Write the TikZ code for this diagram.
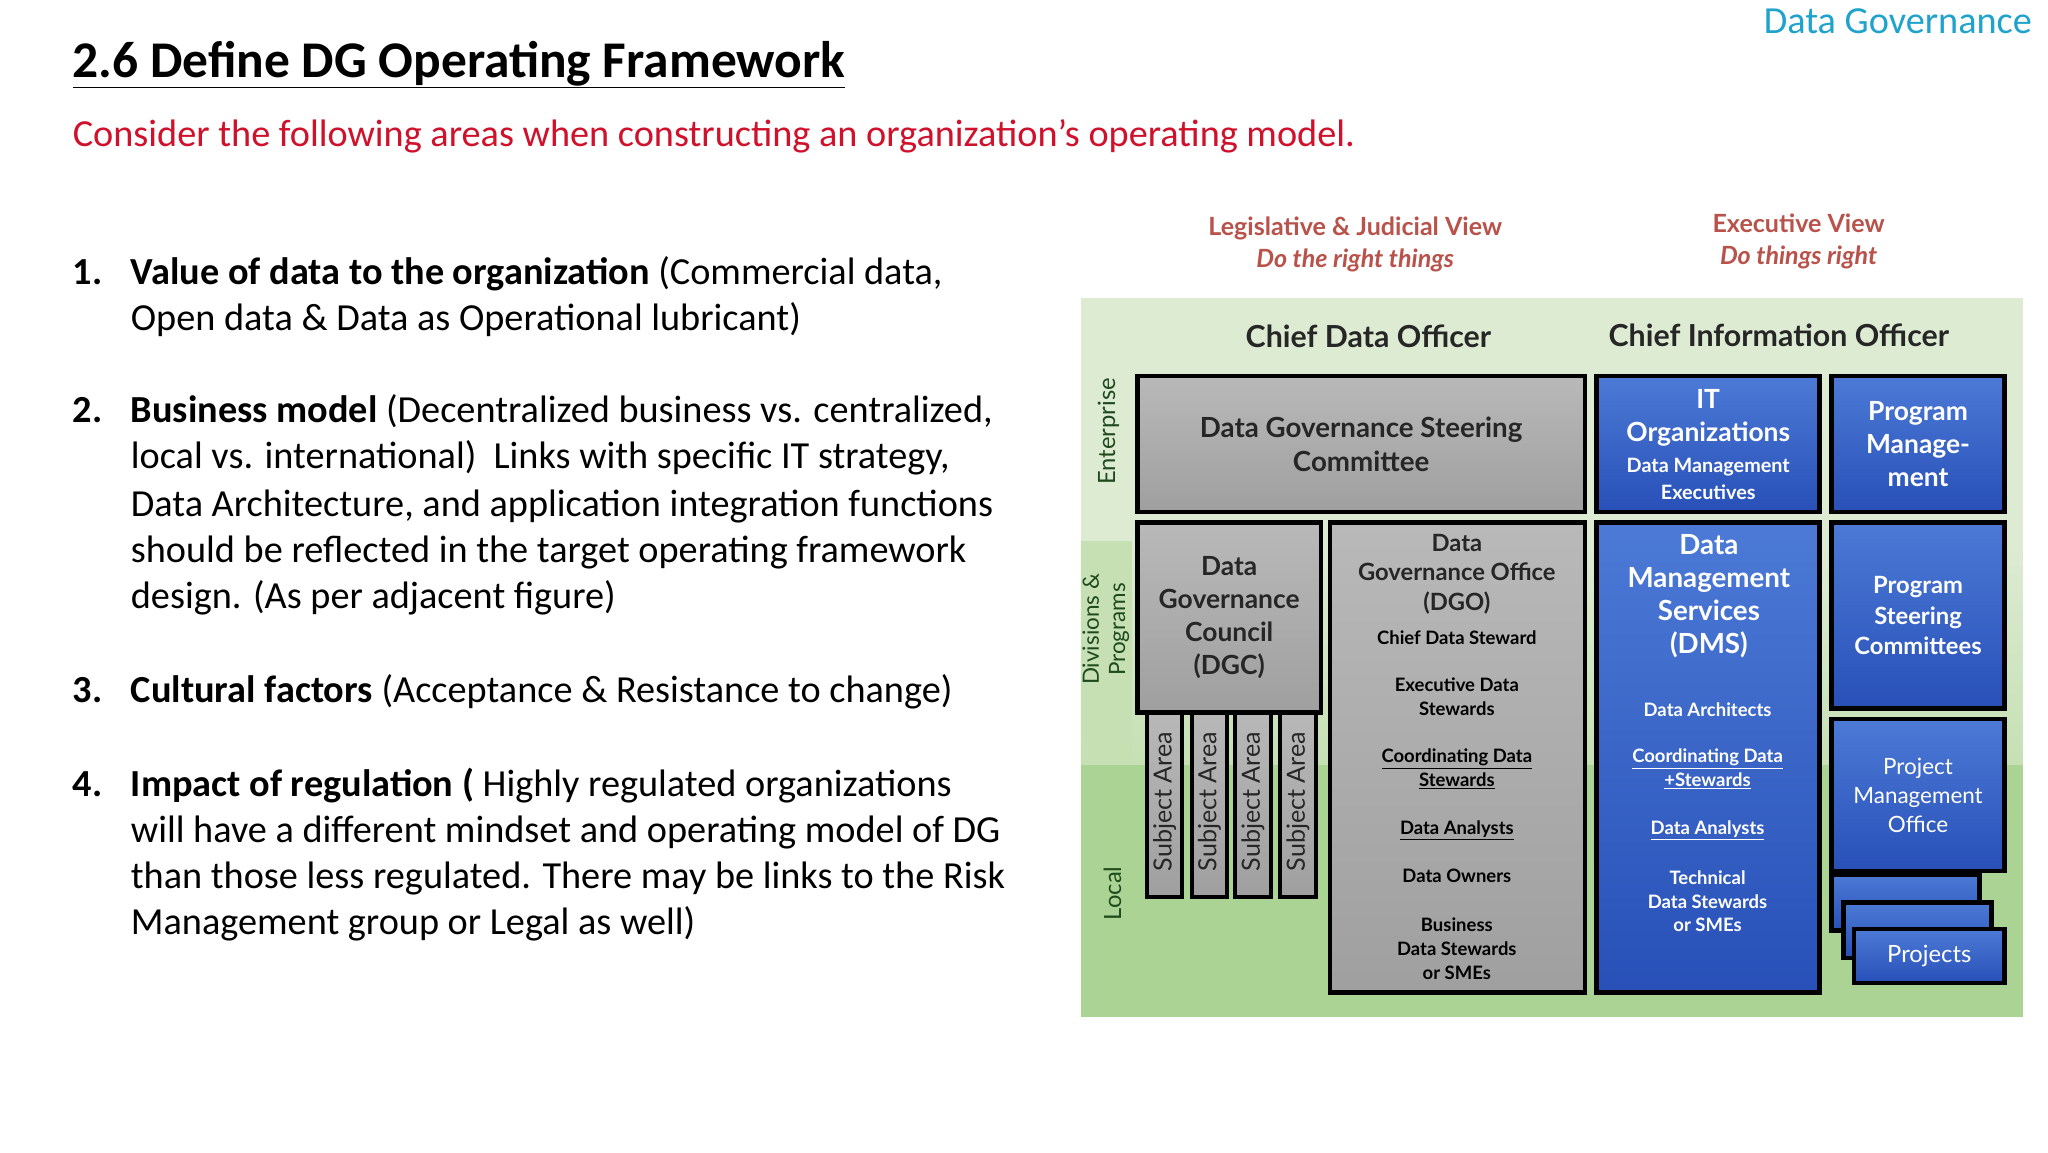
\documentclass[tikz,border=0pt]{standalone}
\usepackage{fontspec}
\setmainfont{Carlito}
\newfontfamily\dg{Lato}
\usetikzlibrary{positioning}
\definecolor{redt}{HTML}{D0112B}
\definecolor{viewc}{HTML}{B8524A}
\definecolor{cyanT}{HTML}{1FA3CC}
\definecolor{gtop}{HTML}{DDEBD3}
\definecolor{gmid}{HTML}{C6E0B4}
\definecolor{gbot}{HTML}{ABD394}
\definecolor{darkg}{HTML}{1E4A1E}
\tikzset{
 body/.style={anchor=mid west,inner sep=0pt,font=\fontsize{29}{34}\selectfont},
 num/.style={body,font=\bfseries\fontsize{29}{34}\selectfont},
 gbox/.style={draw=black,line width=3.5pt,top color=gray!55,bottom color=gray!75,align=center,inner sep=2pt,text=black!85},
 bbox/.style={draw=black,line width=3.5pt,top color={rgb,255:red,76;green,122;blue,214},bottom color={rgb,255:red,40;green,80;blue,184},align=center,inner sep=2pt,text=white},
 sub/.style={font=\dg\bfseries\fontsize{14}{18}\selectfont,align=center,inner sep=1pt},
 side/.style={rotate=90,font=\dg\fontsize{18}{20}\selectfont,align=center,text=darkg},
}
\begin{document}
\begin{tikzpicture}[x=1pt,y=-1pt]
\useasboundingbox (0,0) rectangle (1552,873);
\fill[white] (0,0) rectangle (1552,873);
% header
\node[anchor=north east,inner sep=0pt,text=cyanT,font=\fontsize{29}{32}\selectfont] (hdr) at (1540,6) {Data Governance};
\node[anchor=mid west,inner sep=0pt,font=\bfseries\fontsize{39}{44}\selectfont] (title) at (55,56) {\underline{2.6 Define DG Operating Framework}};
\node[anchor=mid west,inner sep=0pt,text=redt,font=\fontsize{29}{32}\selectfont] (subt) at (55,109) {Consider the following areas when constructing an organization’s operating model.};
% list
\node[num] (n1) at (55,213) {1.};
\node[body] (l1a) at (99,213) {\textbf{Value of data to the organization} (Commercial data,};
\node[body] (l1b) at (99,248) {Open data \& Data as Operational lubricant)};
\node[num] (n2) at (55,318) {2.};
\node[body] (l2a) at (99,318) {\textbf{Business model} (Decentralized business vs. centralized,};
\node[body] (l2b) at (99,353) {local vs. international)\ \ Links with specific IT strategy,};
\node[body] (l2c) at (99,389) {Data Architecture, and application integration functions};
\node[body] (l2d) at (99,424) {should be reflected in the target operating framework};
\node[body] (l2e) at (99,459) {design. (As per adjacent figure)};
\node[num] (n3) at (55,530) {3.};
\node[body] (l3a) at (99,530) {\textbf{Cultural factors} (Acceptance \& Resistance to change)};
\node[num] (n4) at (55,601) {4.};
\node[body] (l4a) at (99,601) {\textbf{Impact of regulation (} Highly regulated organizations};
\node[body] (l4b) at (99,636) {will have a different mindset and operating model of DG};
\node[body] (l4c) at (99,671) {than those less regulated. There may be links to the Risk};
\node[body] (l4d) at (99,706) {Management group or Legal as well)};
% views
\node[text=viewc,font=\dg\bfseries\fontsize{19}{24}\selectfont,align=center] (lv) at (1027,185) {Legislative \& Judicial View\\\itshape Do the right things};
\node[text=viewc,font=\dg\bfseries\fontsize{19}{24}\selectfont,align=center] (ev) at (1363,183) {Executive View\\\itshape Do things right};
% background
\fill[gtop] (819,226) rectangle (1533,410);
\shade[top color=gtop,bottom color=gmid] (819,410) rectangle (1533,580);
\fill[gmid] (819,410) rectangle (858,580);
\fill[gbot] (819,580) rectangle (1533,771);
\node[font=\dg\bfseries\fontsize{23}{26}\selectfont,text=black!85] (cdo) at (1037,255) {Chief Data Officer};
\node[font=\dg\bfseries\fontsize{23}{26}\selectfont,text=black!85] (cio) at (1348,254) {Chief Information Officer};
\node[side] (ent) at (840,327) {Enterprise};
\node[side,font=\dg\fontsize{17}{20}\selectfont] (div) at (838,477) {Divisions \&\\Programs};
\node[side] (loc) at (843,677) {Local};
% boxes
\path[gbox] (862,285) rectangle (1201,388) node[midway,align=center,text=black!85,font=\dg\bfseries\fontsize{21}{26}\selectfont] (dgsc) {Data Governance Steering\\Committee};
\path[bbox] (1210,285) rectangle (1379,388);
\node[align=center,text=white,font=\dg\bfseries\fontsize{20}{25}\selectfont] (ito) at (1294.5,317) {IT\\Organizations};
\node[sub,text=white,font=\dg\bfseries\fontsize{15}{20}\selectfont] (dme) at (1294.5,363) {Data Management\\Executives};
\path[bbox] (1388,285) rectangle (1519,388) node[midway,align=center,text=white,font=\dg\bfseries\fontsize{20}{25}\selectfont] (pm) {Program\\Manage-\\ment};
% subject areas
\foreach \x [count=\i] in {869,903,936,970}{
  \path[gbox,line width=3pt] (\x,535) rectangle (\x+27,680) node[midway,rotate=90,text=black!85,font=\dg\fontsize{19}{22}\selectfont] (sa\i) {Subject Area};
}
\path[gbox] (862,396) rectangle (1001,540) node[midway,align=center,text=black!85,font=\dg\bfseries\fontsize{20}{25}\selectfont] (dgc) {Data\\Governance\\Council\\(DGC)};
% DGO
\path[gbox] (1008,396) rectangle (1201,752);
\node[align=center,font=\dg\bfseries\fontsize{18}{22.5}\selectfont,text=black!85] (dgo) at (1104,435) {Data\\Governance Office\\(DGO)};
\node[sub] (cds) at (1104,483) {Chief Data Steward};
\node[sub] (eds) at (1104,528) {Executive Data\\Stewards};
\node[sub] (cods) at (1104,583) {\underline{Coordinating Data}\\\underline{Stewards}};
\node[sub] (da1) at (1104,629) {\underline{Data Analysts}};
\node[sub] (do1) at (1104,664) {Data Owners};
\node[sub] (bds) at (1104,719) {Business\\Data Stewards\\or SMEs};
% DMS
\path[bbox] (1210,396) rectangle (1379,752);
\node[align=center,text=white,font=\dg\bfseries\fontsize{21}{25}\selectfont] (dms) at (1295,452) {Data\\Management\\Services\\(DMS)};
\node[sub,text=white] (darch) at (1294,538) {Data Architects};
\node[sub,text=white] (cods2) at (1294,583) {\underline{Coordinating Data}\\\underline{+Stewards}};
\node[sub,text=white] (da2) at (1294,629) {\underline{Data Analysts}};
\node[sub,text=white] (tds) at (1294,683) {Technical\\Data Stewards\\or SMEs};
% right column
\path[bbox] (1388,396) rectangle (1519,537) node[midway,align=center,text=white,font=\dg\bfseries\fontsize{18}{23}\selectfont] (psc) {Program\\Steering\\Committees};
\path[bbox] (1388,545) rectangle (1519,660) node[midway,align=center,text=white,font=\dg\fontsize{17}{22}\selectfont] (pmo) {Project\\Management\\Office};
\path[bbox] (1388,663) rectangle (1500,705);
\path[bbox] (1397,684) rectangle (1509,726);
\path[bbox] (1405,704) rectangle (1519,745) node[midway,text=white,font=\dg\fontsize{18}{22}\selectfont] (proj) {Projects};
\end{tikzpicture}
\end{document}
